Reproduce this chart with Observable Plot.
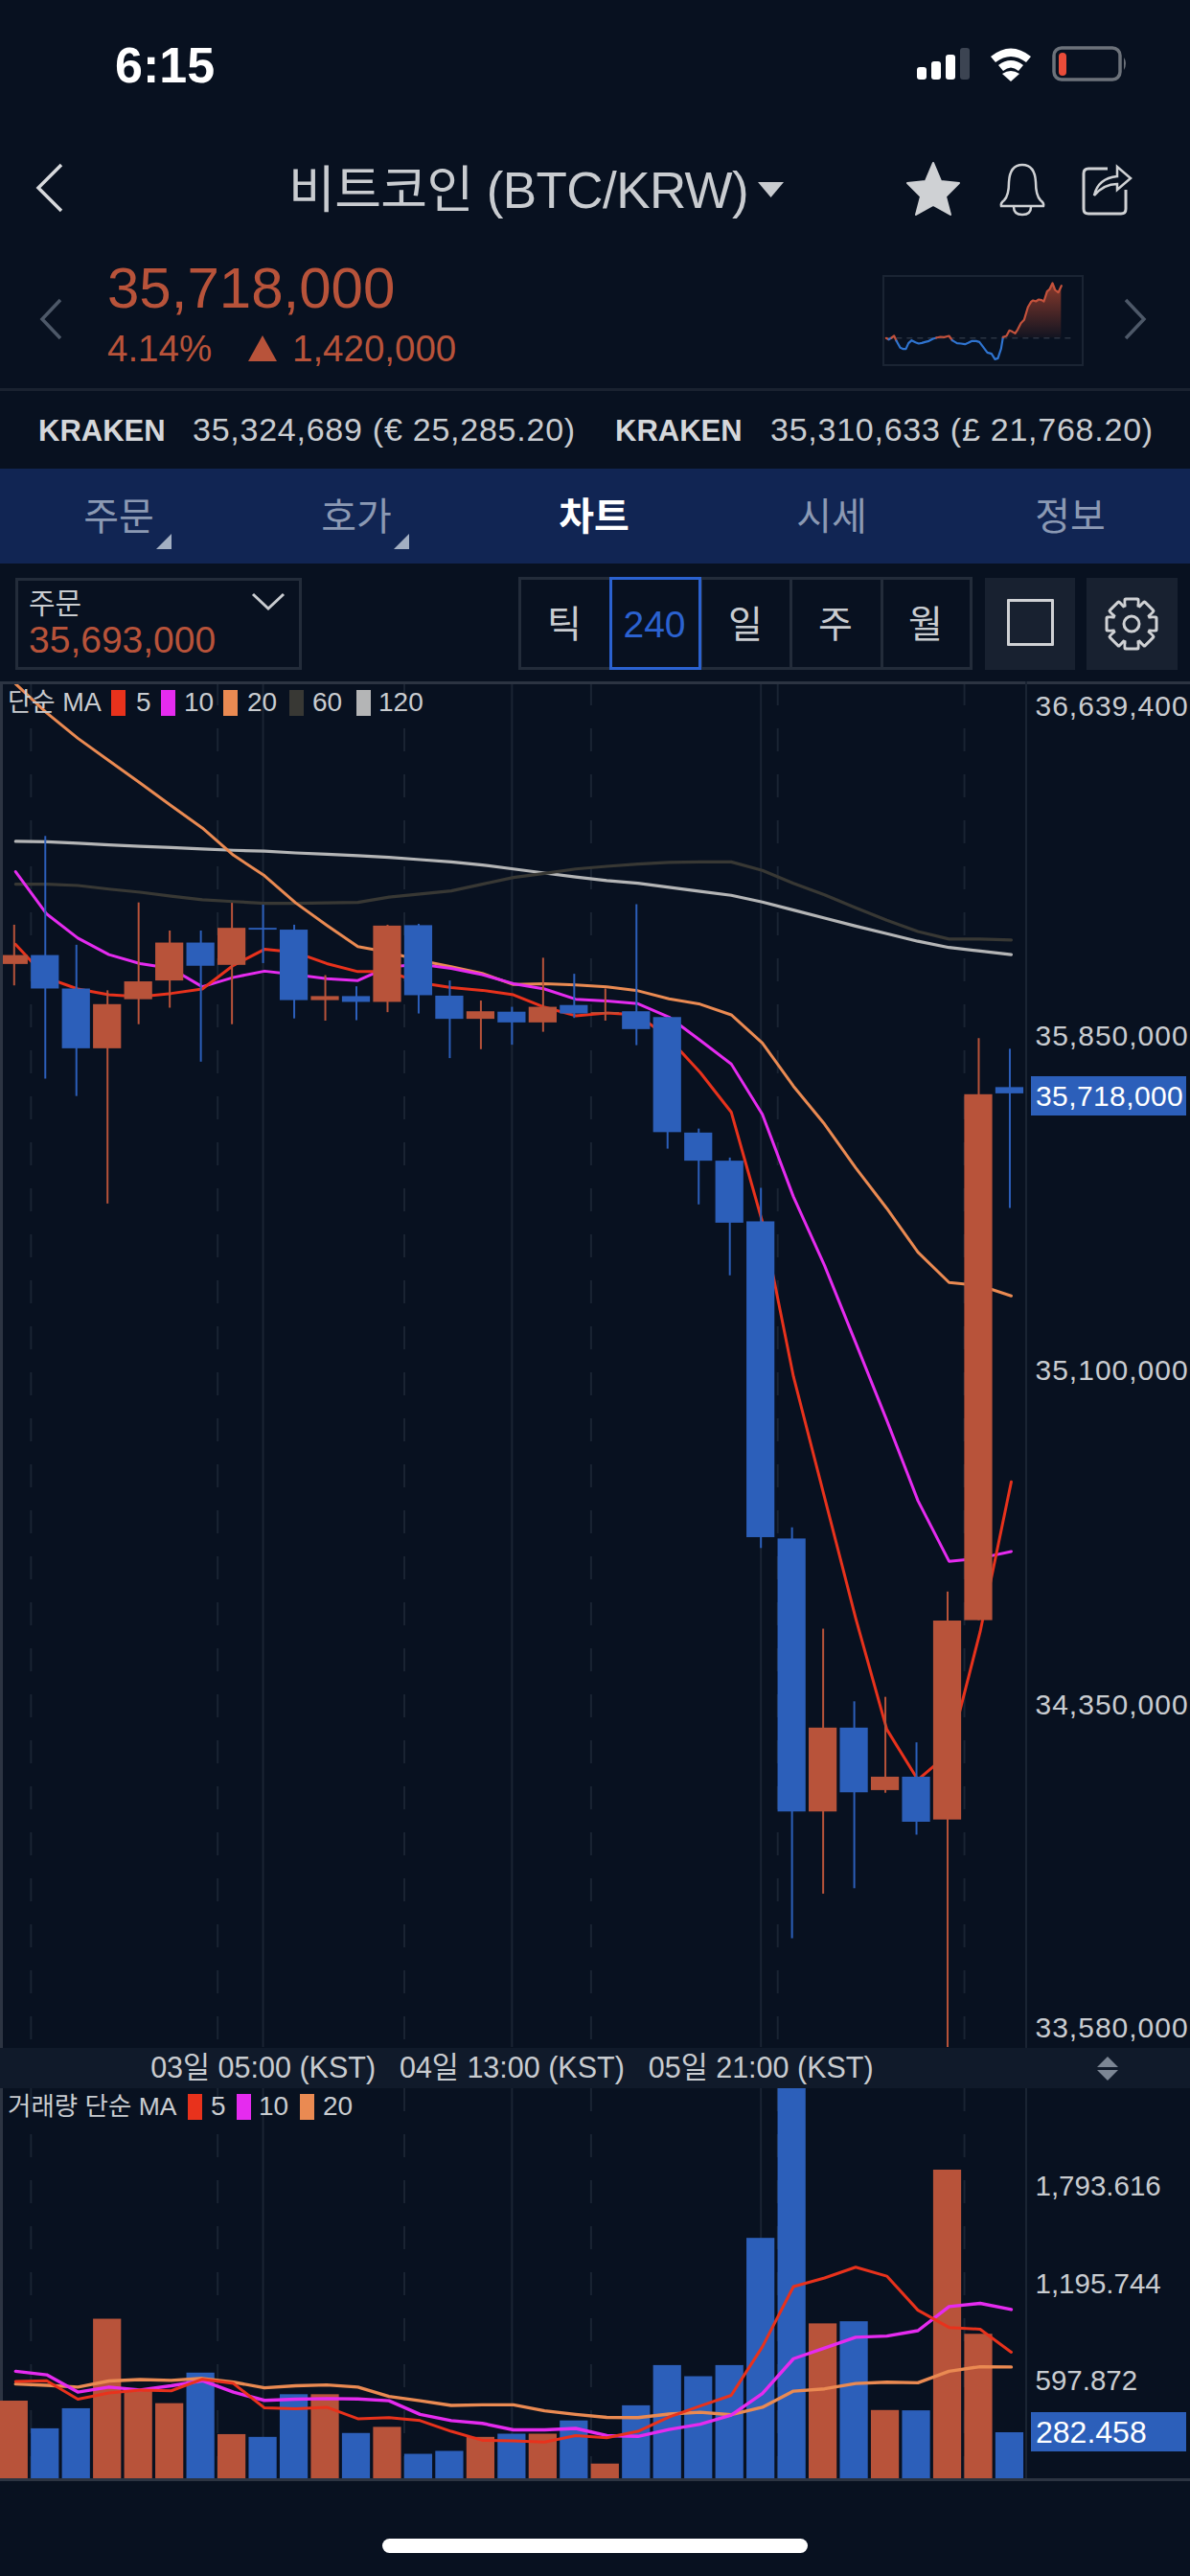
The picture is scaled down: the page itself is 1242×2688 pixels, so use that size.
<!DOCTYPE html>
<html lang="ko">
<head>
<meta charset="utf-8">
<title>비트코인 (BTC/KRW)</title>
<script src="https://cdn.jsdelivr.net/npm/d3@7"></script>
<script src="https://cdn.jsdelivr.net/npm/@observablehq/plot@0.6"></script>
<style>
html,body{margin:0;padding:0;background:#081120;width:1242px;height:2688px;overflow:hidden}
#app{position:relative;width:1242px;height:2688px;overflow:hidden;background:#081120;font-family:"Liberation Sans","Noto Sans CJK KR",sans-serif}
.t{position:absolute;white-space:nowrap;line-height:1}
.b{position:absolute;box-sizing:border-box}
#app>svg,#app svg.abs{position:absolute}
</style>
</head>
<body>
<div id="app"></div>
<script>
// ---------- price candles (KRW) ----------
const open  = [36008000,36028000,35953000,35819000,35929000,35971000,36056000,36006000,36089000,36085000,35927000,35936000,35923000,36095000,35937000,35885000,35901000,35877000,35916000,35897000,35902000,35889000,35630000,35567000,35431000,34720000,34108000,34296000,34156000,34186000,34090000,34537000,35732000];
const close = [36028000,35953000,35819000,35918000,35969000,36056000,36004000,36089000,36085000,35927000,35936000,35923000,36094000,35938000,35885000,35902000,35877000,35912000,35897000,35900000,35862000,35631000,35567000,35428000,34723000,34108000,34296000,34151000,34186000,34085000,34536000,35716000,35718000];
const high  = [36096000,36295000,36051000,35949000,36146000,36083000,36083000,36145000,36141000,36096000,35983000,35958000,36096000,36098000,35971000,35926000,35912000,36022000,35986000,35953000,36142000,35889000,35639000,35574000,35506000,34745000,34518000,34355000,34365000,34263000,34601000,35842000,35818000];
const low   = [35960000,35751000,35712000,35471000,35873000,35910000,35789000,35873000,36010000,35886000,35881000,35882000,35900000,35897000,35797000,35817000,35827000,35856000,35887000,35881000,35826000,35594000,35469000,35310000,34699000,33824000,33924000,33936000,34150000,34056000,33580000,34537000,35461000];
// ---------- price moving averages ----------
const ma5   = [36053000,35978000,35953000,35940000,35936000,35943000,35953000,36006000,36042000,36035000,36010000,35992000,35992000,35967000,35956000,35950000,35940000,35912000,35893000,35899000,35895000,35842000,35766000,35677000,35431000,35084000,34813000,34542000,34293000,34180000,34240000,34512000,34848000];
const ma10  = [36216000,36121000,36067000,36030000,36010000,35999000,35958000,35979000,35993000,35985000,35976000,35972000,36003000,36008000,35999000,35985000,35965000,35953000,35930000,35926000,35920000,35890000,35838000,35785000,35672000,35487000,35333000,35160000,34986000,34806000,34670000,34677000,34692000];
const ma20  = [36637000,36572000,36515000,36465000,36415000,36364000,36314000,36253000,36207000,36146000,36096000,36048000,36035000,36017000,36003000,35988000,35963000,35965000,35962000,35958000,35949000,35931000,35919000,35895000,35832000,35735000,35650000,35552000,35461000,35363000,35295000,35288000,35265000];
const ma60  = [36188000,36188000,36185000,36177000,36170000,36161000,36153000,36149000,36145000,36145000,36146000,36147000,36159000,36166000,36173000,36188000,36203000,36212000,36222000,36228000,36233000,36237000,36238000,36238000,36219000,36190000,36164000,36135000,36107000,36082000,36065000,36065000,36063000];
const ma120 = [36284000,36283000,36280000,36276000,36273000,36270000,36267000,36264000,36262000,36258000,36255000,36252000,36248000,36243000,36238000,36231000,36222000,36213000,36204000,36196000,36190000,36181000,36172000,36163000,36148000,36130000,36112000,36094000,36077000,36060000,36046000,36038000,36030000];
// ---------- volume ----------
const volume = [476.5,306.7,430,979.6,545,461,648.6,271,254,516,516,278,315.5,150,168,254,273.6,273.6,355,90,448,695,626.6,695,1476,2398,951,964,419,417,1895,887,282.458];
const volMa5  = [598,602,488,527,545,540,611,585,435,430,439,368,375,357,291,236,232,225,265,252,291,379,446,512,810,1180,1233,1299,1244,1035,929,918,777];
const volMa10 = [660,638,532,563,545,571,602,532,481,488,492,490,479,395,357,340,300,300,309,265,260,302,335,390,523,737,803,869,876,909,1057,1077,1039];
const volMa20 = [582,574,563,600,609,604,616,593,558,571,576,563,505,479,450,454,454,417,395,377,375,397,408,393,439,538,552,585,593,589,660,688,686];
// ---------- tick labels ----------
const priceTicks = [35850000,35100000,34350000];
const priceMax = 36639400, priceMin = 33580000;
const volTicks = [597.872,1195.744,1793.616];
const timeIdx = [8,16,24];
const timeLabels = ["03일 05:00 (KST)","04일 13:00 (KST)","05일 21:00 (KST)"];
const dashedIdx = [0.54,6.54,12.54,18.54,24.54,30.54];
const lastPrice = 35718000, lastVolume = 282.458;
// ---------- sparkline (position, change from prior close) ----------
const sparkX = [28,36,45,53,60,72,82,90,98,108,120,130,140,150,162,175,185,198,210,225,235,250,262,275,285,297,310,320,332,345,358,369,378,388,394,405,414,422,432,440,450,460,472,482,488,497,506,515,522,532,540,549,557,567,577];
const sparkV = [0,-4,1,7,-8,-30,-34,-34,-16,-7,-13,-17,-15,-12,-9,-2,1,4,3,7,-7,-16,-17,-19,-15,-9,-9,-12,-28,-45,-49,-66,-63,-33,3,7,24,21,15,27,47,57,97,114,118,115,121,119,115,146,153,172,151,143,164];

const RED="#b8533a", BLUE="#2c5fba", GRID="#1a2433", BORDER="#2c3442", TXT="#c9ccd0";
const FONT='"Liberation Sans","Noto Sans CJK KR",sans-serif';
const app=document.getElementById("app");
const idx=d3.range(open.length);
const col=i=>close[i]>=open[i]?RED:BLUE;

function t(s,x,y,size,color,o={}){
  const e=document.createElement("div");e.className="t";e.textContent=s;
  const tx={start:"0",middle:"-50%",end:"-100%"}[o.anchor||"start"];
  e.style.cssText+=`left:${x}px;top:${y}px;font-size:${size}px;color:${color};transform:translate(${tx},-50%);font-weight:${o.weight||400};letter-spacing:${o.ls||0}px;`;
  app.append(e);return e;
}
function box(x,y,w,h,css){const e=document.createElement("div");e.className="b";
  e.style.cssText+=`left:${x}px;top:${y}px;width:${w}px;height:${h}px;${css}`;app.append(e);return e;}
function icon(x,y,w,h,inner,vb){
  const s=document.createElementNS("http://www.w3.org/2000/svg","svg");
  s.setAttribute("class","abs");s.setAttribute("width",w);s.setAttribute("height",h);
  s.setAttribute("viewBox",vb||`0 0 ${w} ${h}`);s.style.left=x+"px";s.style.top=y+"px";s.innerHTML=inner;app.append(s);return s;
}
function place(p,top){p.style.position="absolute";p.style.left="0";p.style.top=top+"px";p.style.background="transparent";p.style.maxWidth="none";app.append(p);return p;}

const xDomain=[-0.44,32.54];
const W=1242, PANEL_R=171;
const common={width:W,marginLeft:0,marginRight:PANEL_R,marginTop:0,marginBottom:0,
  x:{domain:xDomain,axis:null},style:{fontFamily:FONT,background:"transparent",overflow:"visible"}};
const grid=()=>[
  Plot.ruleX(dashedIdx,{x:d=>d,stroke:GRID,strokeWidth:2,strokeDasharray:"24 24"}),
  Plot.ruleX(timeIdx,{x:d=>d,stroke:GRID,strokeWidth:2})
];
const maLine=(arr,stroke,w)=>Plot.line(idx,{x:i=>i,y:i=>arr[i],stroke,strokeWidth:w,dx:1.5,curve:"linear",strokeLinejoin:"round",clip:true});

// ---------- status bar ----------
t("6:15",120,68,52,"#fff",{weight:700});
icon(955,48,62,36,`<rect x="2" y="22" width="10" height="13" rx="3" fill="#fff"/><rect x="17" y="16" width="10" height="19" rx="3" fill="#fff"/><rect x="32" y="9" width="10" height="26" rx="3" fill="#fff"/><rect x="47" y="2" width="10" height="33" rx="3" fill="#3c4452"/>`);
icon(1030,48,50,38,`<path d="M4 11 Q25 -6 46 11 L41 17 Q25 5 9 17Z" fill="#fff"/><path d="M12 20 Q25 10 38 20 L33 26 Q25 19 17 26Z" fill="#fff"/><path d="M25 37 L16 29 Q25 23 34 29Z" fill="#fff"/>`);
icon(1098,48,82,38,`<rect x="2" y="2" width="69" height="33" rx="8" fill="none" stroke="#6c727a" stroke-width="3.5"/><rect x="7" y="7" width="8" height="24" rx="4" fill="#ea4c39"/><path d="M75 12 Q79 18 75 25Z" fill="#6c727a"/>`);

// ---------- header ----------
icon(34,168,34,56,`<path d="M30 4 L6 28 L30 52" fill="none" stroke="#d8dadd" stroke-width="3.5"/>`);
t("비트코인 (BTC/KRW)",301,198,53,"#c9ccd0",{ls:-0.6});
icon(790,188,30,20,`<path d="M1 2 H28 L14.5 18Z" fill="#c9ccd0"/>`);
icon(945,168,58,58,`<path d="M29 2 L37 21 L56 23 L42 37 L47 56 L29 46 L11 56 L16 37 L2 23 L21 21Z" fill="#cfd1d4" stroke="#cfd1d4" stroke-width="2" stroke-linejoin="round"/>`);
icon(1040,168,54,58,`<path d="M5 47 Q4 44 8 41 Q13 36 13 22 Q14 4 27 4 Q40 4 41 22 Q41 36 46 41 Q50 44 49 47 Z" fill="none" stroke="#cfd1d4" stroke-width="2.5"/><path d="M18 48 Q18 56 27 56 Q36 56 36 48" fill="none" stroke="#cfd1d4" stroke-width="2.5"/>`);
icon(1128,168,56,58,`<path d="M28 8 H8 Q3 8 3 13 V50 Q3 55 8 55 H42 Q47 55 47 50 V30" fill="none" stroke="#cfd1d4" stroke-width="3"/><path d="M14 36 Q18 18 38 16 V6 L52 18 L38 30 V24 Q24 24 14 36Z" fill="none" stroke="#cfd1d4" stroke-width="2.5"/>`);

// ---------- price header ----------
icon(40,310,26,46,`<path d="M23 3 L4 23 L23 43" fill="none" stroke="#4d5868" stroke-width="3.5"/>`);
icon(1172,310,26,46,`<path d="M3 3 L22 23 L3 43" fill="none" stroke="#4d5868" stroke-width="3.5"/>`);
t("35,718,000",112,301,60,RED);
t("4.14%",112,364,38.5,RED);
icon(258,349,32,30,`<path d="M16 1 L31 28 H1Z" fill="${RED}"/>`);
t("1,420,000",305,364,38.5,RED);

// ---------- sparkline ----------
box(921,287,210,95,`border:2px solid #1a2433;`);
const sp=d3.range(sparkX.length).map(i=>({x:sparkX[i],v:sparkV[i]}));
place(Plot.plot({width:210,height:95,margin:0,x:{domain:[18,648],axis:null},y:{domain:[-89,196],axis:null},
  style:{background:"transparent"},
  marks:[
    ()=>{const g=d3.create("svg:defs");const lg=g.append("linearGradient").attr("id","spk").attr("x1",0).attr("x2",0).attr("y1",0).attr("y2",1);
      lg.append("stop").attr("offset","0").attr("stop-color","#8a3a2c");lg.append("stop").attr("offset","1").attr("stop-color","#8a3a2c").attr("stop-opacity",0.08);return g.node();},
    Plot.ruleY([0],{stroke:"#2a3442",strokeWidth:1.5,strokeDasharray:"6 5",x1:28,x2:620}),
    Plot.areaY(sp.filter(d=>d.x>=405),{x:"x",y:"v",fill:"url(#spk)"}),
    Plot.line(sp,{x:"x",y:"v",z:null,stroke:d=>d.v>=0?"#c4523c":"#2f74d0",strokeWidth:2.2,curve:"linear"})
  ]}),287).style.left="921px";

box(0,405,1242,3,`background:#1a2230;`);
t("KRAKEN",40,449,31,"#d5d7da",{weight:700});
t("35,324,689 (€ 25,285.20)",201,448,34,"#c9ccd0",{ls:.75});
t("KRAKEN",642,449,31,"#d5d7da",{weight:700});
t("35,310,633 (£ 21,768.20)",804,448,34,"#c9ccd0",{ls:.75});

// ---------- nav ----------
box(0,489,1242,99,`background:#112553;`);
[["주문",124],["호가",372],["차트",620],["시세",868],["정보",1117]].forEach(([s,x],i)=>{
  t(s,x,539,40,i==2?"#fff":"#8b99b3",{anchor:"middle",weight:i==2?700:400});
});
[163,411].forEach(x=>icon(x,557,17,17,`<path d="M16 0 V16 H0Z" fill="#a3afc2"/>`));

// ---------- controls ----------
box(16,603,299,96,`border:3px solid #232c3a;`);
t("주문",30,630,30,TXT);
t("35,693,000",30,667,39,RED);
icon(262,618,36,20,`<path d="M2 2 L18 17 L34 2" fill="none" stroke="#c9ccd0" stroke-width="3"/>`);
box(541,602,474,97,`border:3px solid #232c3a;`);
[636,730,824,919].forEach(x=>box(x,602,3,97,`background:#232c3a;`));
box(636,602,96,97,`border:3px solid #2b62d0;`);
[["틱",589],["240",683],["일",778],["주",872],["월",966]].forEach(([s,x],i)=>t(s,x,651,39,i==1?"#2b62d0":TXT,{anchor:"middle"}));
box(1028,603,94,96,`background:#182130;`);
box(1051,625,49,49,`border:3.5px solid #cfd1d4;border-radius:1px;`);
box(1134,603,95,96,`background:#182130;`);
const gearTeeth=d3.range(8).map(i=>`<rect x="-7" y="-26" width="14" height="9" rx="1" transform="rotate(${i*45})" fill="#182130" stroke="#cfd1d4" stroke-width="3"/>`).join("");
icon(1150,620,62,62,`<g transform="translate(31,31)">${gearTeeth}<circle r="20" fill="#182130" stroke="#cfd1d4" stroke-width="3"/>${d3.range(8).map(i=>`<rect x="-5.5" y="-24" width="11" height="8" transform="rotate(${i*45})" fill="#182130"/>`).join("")}<circle r="8" fill="none" stroke="#cfd1d4" stroke-width="3"/></g>`);

// ---------- price chart ----------
const priceTop=712, priceH=1424;
const price=Plot.plot({...common,height:priceH,
  y:{domain:[priceMin,priceMax],range:[0,priceH],reverse:true,axis:null},
  marks:[
    ...grid(),
    maLine(ma120,"#b4b5b6",3.2),
    maLine(ma60,"#383834",3.2),
    maLine(ma20,"#ea8a52",3),
    maLine(ma10,"#e52bef",3),
    maLine(ma5,"#e8321c",3),
    Plot.ruleX(idx,{x:i=>i,y1:i=>low[i],y2:i=>high[i],stroke:col,strokeWidth:2}),
    Plot.rect(idx,{x1:i=>i-.45,x2:i=>i+.45,y1:i=>Math.min(open[i],close[i]),y2:i=>Math.max(open[i],close[i]),fill:col}),
    Plot.axisY(priceTicks,{anchor:"right",label:null,tickSize:0,tickPadding:9,dy:1,fontSize:30,fill:TXT,tickFormat:d3.format(","),lineWidth:20}),
    Plot.text([priceMax],{y:d=>d,frameAnchor:"right",dx:9,dy:25,textAnchor:"start",text:d3.format(","),fontSize:30,fill:TXT}),
    Plot.text([priceMin],{y:d=>d,frameAnchor:"right",dx:9,dy:-20,textAnchor:"start",text:d3.format(","),fontSize:30,fill:TXT})
  ]});
place(price,priceTop);
price.querySelectorAll("text").forEach(e=>{if(e.textContent.includes(","))e.style.letterSpacing="1px";});
box(0,711,1242,3,`background:${BORDER};`);
box(0,711,3,1878,`background:${BORDER};`);
box(1070,711,2,1878,`background:${GRID};`);

// ---------- price legend ----------
t("단순 MA",8,733,27,TXT);
[[116,"#e8321c","5",142],[168,"#e52bef","10",192],[233,"#ea8a52","20",258],[302,"#383834","60",326],[372,"#b4b5b6","120",395]].forEach(([x,c,s,tx])=>{
  box(x,720,15,27,`background:${c};`);t(s,tx,733,28,TXT);
});
const lastY=priceTop+price.scale("y").apply(lastPrice);
box(1076,lastY-18,162,41,`background:${BLUE};`);
t(d3.format(",")(lastPrice),1081,lastY+3,30,"#fff",{ls:.4});

// ---------- time strip ----------
const strip=Plot.plot({...common,height:42,y:{axis:null},
  marks:[Plot.text(timeIdx,{x:d=>d,frameAnchor:"middle",text:(d,i)=>timeLabels[i],fontSize:30.5,fill:TXT})]});
place(strip,2137);strip.style.background="#101a2a";
icon(1144,2146,26,26,`<path d="M12 0 L23 11 H1Z" fill="#7c8694"/><path d="M12 25 L23 14 H1Z" fill="#7c8694"/>`);

// ---------- volume chart ----------
const volTop=2179, volH=407;
const vol=Plot.plot({...common,height:volH,
  y:{domain:[0,2395],range:[volH,0],axis:null},
  marks:[
    ...grid(),
    Plot.rect(idx,{x1:i=>i-.45,x2:i=>i+.45,y1:0,y2:i=>volume[i],fill:col,clip:true}),
    maLine(volMa20,"#ea8a52",3.4),
    maLine(volMa10,"#e52bef",3.4),
    maLine(volMa5,"#e8321c",3),
    Plot.axisY(volTicks,{anchor:"right",label:null,tickSize:0,tickPadding:9,fontSize:29.5,fill:TXT,tickFormat:d3.format(",.3f")})
  ]});
place(vol,volTop);
box(0,2586,1242,3,`background:${BORDER};`);
box(1076,2517,162,41,`background:${BLUE};`);
t(d3.format(".3f")(lastVolume),1081,2538,32,"#fff");
t("거래량 단순 MA",8,2198,26.5,TXT);
[[196,"#e8321c","5",220],[247,"#e52bef","10",270],[313,"#ea8a52","20",337]].forEach(([x,c,s,tx])=>{
  box(x,2185,15,27,`background:${c};`);t(s,tx,2198,28,TXT);
});

// ---------- home indicator ----------
box(399,2649,444,15,`background:#fff;border-radius:8px;`);
</script>
</body>
</html>
